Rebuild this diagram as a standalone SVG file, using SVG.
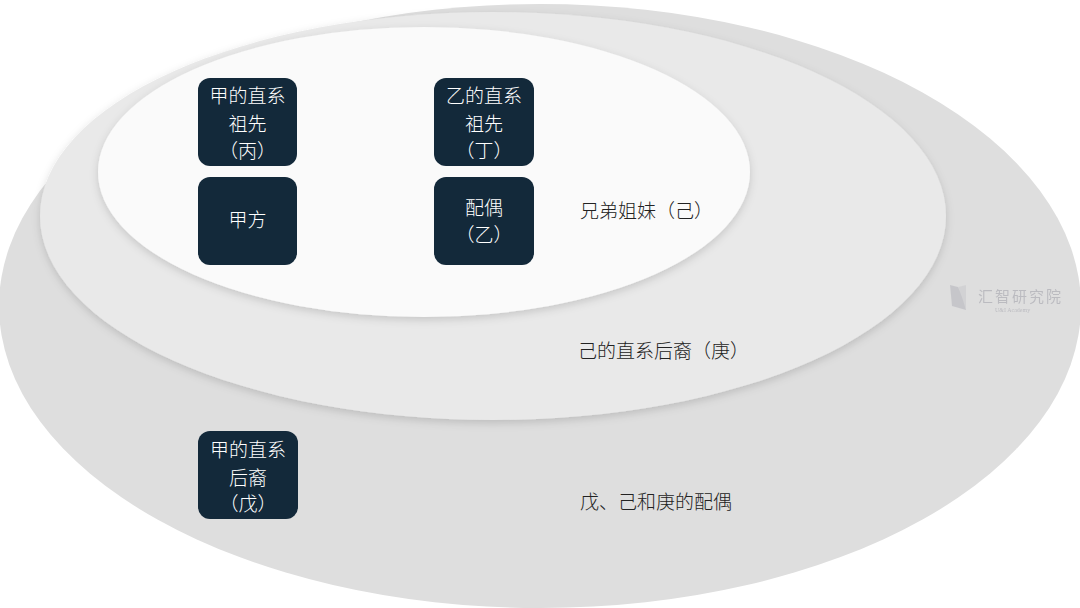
<svg xmlns="http://www.w3.org/2000/svg" width="1080" height="608" viewBox="0 0 1080 608">
<style>
.box{fill:#13293a}
.bt{fill:#fff;font-family:"Noto Sans CJK SC",sans-serif;font-size:19px;font-weight:300;text-anchor:middle}
.lb{fill:#222;font-family:"Noto Sans CJK SC",sans-serif;font-size:19px;font-weight:300}
</style>
<defs>
<filter id="sh" x="-10%" y="-10%" width="120%" height="120%"><feDropShadow dx="0" dy="3" stdDeviation="4" flood-color="#000" flood-opacity="0.15"/></filter>
</defs>
<rect width="1080" height="608" fill="#fff"/>
<g id="outer"><ellipse cx="540" cy="306" rx="541" ry="302" fill="#dedede"/>
<text class="lb" x="580" y="509">戊、己和庚的配偶</text></g>
<g id="middle"><ellipse cx="493" cy="216" rx="453" ry="204" fill="#e9e9e9" filter="url(#sh)"/>
<text class="lb" x="578" y="358">己的直系后裔（庚）</text></g>
<g id="inner"><ellipse cx="424" cy="172" rx="326" ry="145" fill="#fafafa" filter="url(#sh)"/>
<text class="lb" x="580" y="218">兄弟姐妹（己）</text></g>
<g id="logo" opacity="0.5">
<path d="M950 285 L958 287 Q966 296 966 310 L952 306 Z" fill="#b0b0b8"/>
<path d="M958 287 L966 285 L966 310 Q962 296 958 287 Z" fill="#c8c8cc"/>
<text x="978" y="302" font-family="Noto Sans CJK SC,sans-serif" font-size="15" fill="#9a9aa4" letter-spacing="2">汇智研究院</text>
<text x="995" y="312" font-family="Liberation Serif,serif" font-size="6" fill="#9a9aa4">U&amp;I Academy</text>
</g>
<g id="n1"><rect class="box" x="198" y="78" width="99" height="88" rx="12"/>
<text class="bt" x="247.5" y="103">甲的直系</text><text class="bt" x="247.5" y="131">祖先</text><text class="bt" x="247.5" y="158">（丙）</text></g>
<g id="n2"><rect class="box" x="198" y="177" width="99" height="88" rx="12"/>
<text class="bt" x="247.5" y="227">甲方</text></g>
<g id="n3"><rect class="box" x="434" y="78" width="100" height="88" rx="12"/>
<text class="bt" x="484" y="103">乙的直系</text><text class="bt" x="484" y="131">祖先</text><text class="bt" x="484" y="158">（丁）</text></g>
<g id="n4"><rect class="box" x="434" y="177" width="100" height="88" rx="12"/>
<text class="bt" x="484" y="215">配偶</text><text class="bt" x="484" y="242">（乙）</text></g>
<g id="n5"><rect class="box" x="198" y="431" width="100" height="88" rx="12"/>
<text class="bt" x="248" y="457">甲的直系</text><text class="bt" x="248" y="485">后裔</text><text class="bt" x="248" y="511">（戊）</text></g>
<g id="connectors"/>
</svg>
